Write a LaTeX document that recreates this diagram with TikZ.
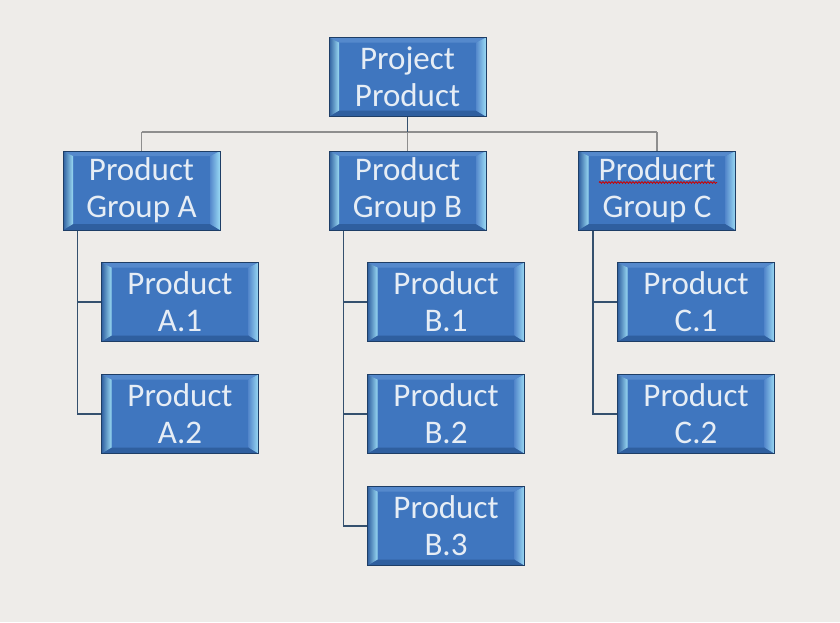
\documentclass[tikz,border=0pt]{standalone}
\usepackage{fontspec}
\setmainfont{Carlito}
\usetikzlibrary{decorations.pathmorphing}
\definecolor{pagebg}{HTML}{EEECE9}
\definecolor{boxfill}{HTML}{3F76BF}
\definecolor{boxedge}{HTML}{1E3E66}
\definecolor{bevellight}{HTML}{9ADAF4}
\definecolor{beveldark}{HTML}{2F5F9F}
\definecolor{bevelmid}{HTML}{5589CC}
\definecolor{linkdark}{HTML}{34506E}
\definecolor{linkgray}{HTML}{8E8E8E}
\definecolor{labeltext}{HTML}{E6EDF5}

\tikzset{
  wbsbox/.style={
    draw=boxedge, line width=1pt, fill=boxfill,
    minimum width=157pt, minimum height=79pt, inner sep=0pt,
    align=center, text=labeltext,
    font=\fontsize{33}{37}\selectfont,
    path picture={
      % top and bottom bevels
      \fill[bevelmid] (path picture bounding box.north west) -- ++(10pt,-5pt)
        -- ++(137pt,0) -- (path picture bounding box.north east) -- cycle;
      \fill[beveldark] (path picture bounding box.south west) -- ++(10pt,6pt)
        -- ++(137pt,0) -- (path picture bounding box.south east) -- cycle;
      % left and right bevels
      \shade[left color=beveldark, right color=bevellight]
        (path picture bounding box.north west) -- ++(10pt,-5pt)
        -- ++(0,-68pt) -- (path picture bounding box.south west) -- cycle;
      \shade[left color=bevelmid, right color=bevellight]
        (path picture bounding box.north east) -- ++(-10pt,-5pt)
        -- ++(0,-68pt) -- (path picture bounding box.south east) -- cycle;
    }},
  buslink/.style={draw=linkgray, line width=1.4pt},
  treelink/.style={draw=linkdark, line width=1.4pt},
  spellmark/.style={draw=red!80!black, line width=0.8pt,
    decorate, decoration={snake, amplitude=0.9pt, segment length=3pt}}
}

\begin{document}
\begin{tikzpicture}[x=1pt, y=1pt]
  \fill[pagebg] (0,0) rectangle (840,-622);
  \useasboundingbox (0,0) rectangle (840,-622);

  % boxes
  \node[wbsbox] (top) at (407.5,-77) {Project\\Product};

  \node[wbsbox] (gA) at (141.5,-190.5) {Product\\Group A};
  \node[wbsbox] (gB) at (407.5,-190.5) {Product\\Group B};
  \node[wbsbox] (gC) at (657,-190.5) {Producrt\\Group C};

  \node[wbsbox] (pA1) at (180,-302) {Product\\A.1};
  \node[wbsbox] (pA2) at (180,-414) {Product\\A.2};

  \node[wbsbox] (pB1) at (446,-302) {Product\\B.1};
  \node[wbsbox] (pB2) at (446,-414) {Product\\B.2};
  \node[wbsbox] (pB3) at (446,-526) {Product\\B.3};

  \node[wbsbox] (pC1) at (696,-302) {Product\\C.1};
  \node[wbsbox] (pC2) at (696,-414) {Product\\C.2};

  % spell-check underline
  \draw[spellmark] ([xshift=21pt,yshift=-32pt]gC.north west)
    -- ([xshift=-19pt,yshift=-32pt]gC.north east);

  % top level links
  \coordinate (bus) at (407.5,-132);
  \draw[buslink] (gA.north |- bus) -- (gC.north |- bus);
  \draw[treelink] (top.south) -- (bus);
  \draw[buslink] (gA.north |- bus) -- (gA.north);
  \draw[buslink] (bus) -- (gB.north);
  \draw[buslink] (gC.north |- bus) -- (gC.north);

  % child links
  \coordinate (trunkA) at ([xshift=15pt]gA.south west);
  \coordinate (trunkB) at ([xshift=15pt]gB.south west);
  \coordinate (trunkC) at ([xshift=15pt]gC.south west);
  \draw[treelink] (trunkA) |- (pA1.west);
  \draw[treelink] (trunkA) |- (pA2.west);
  \draw[treelink] (trunkB) |- (pB1.west);
  \draw[treelink] (trunkB) |- (pB2.west);
  \draw[treelink] (trunkB) |- (pB3.west);
  \draw[treelink] (trunkC) |- (pC1.west);
  \draw[treelink] (trunkC) |- (pC2.west);
\end{tikzpicture}
\end{document}
